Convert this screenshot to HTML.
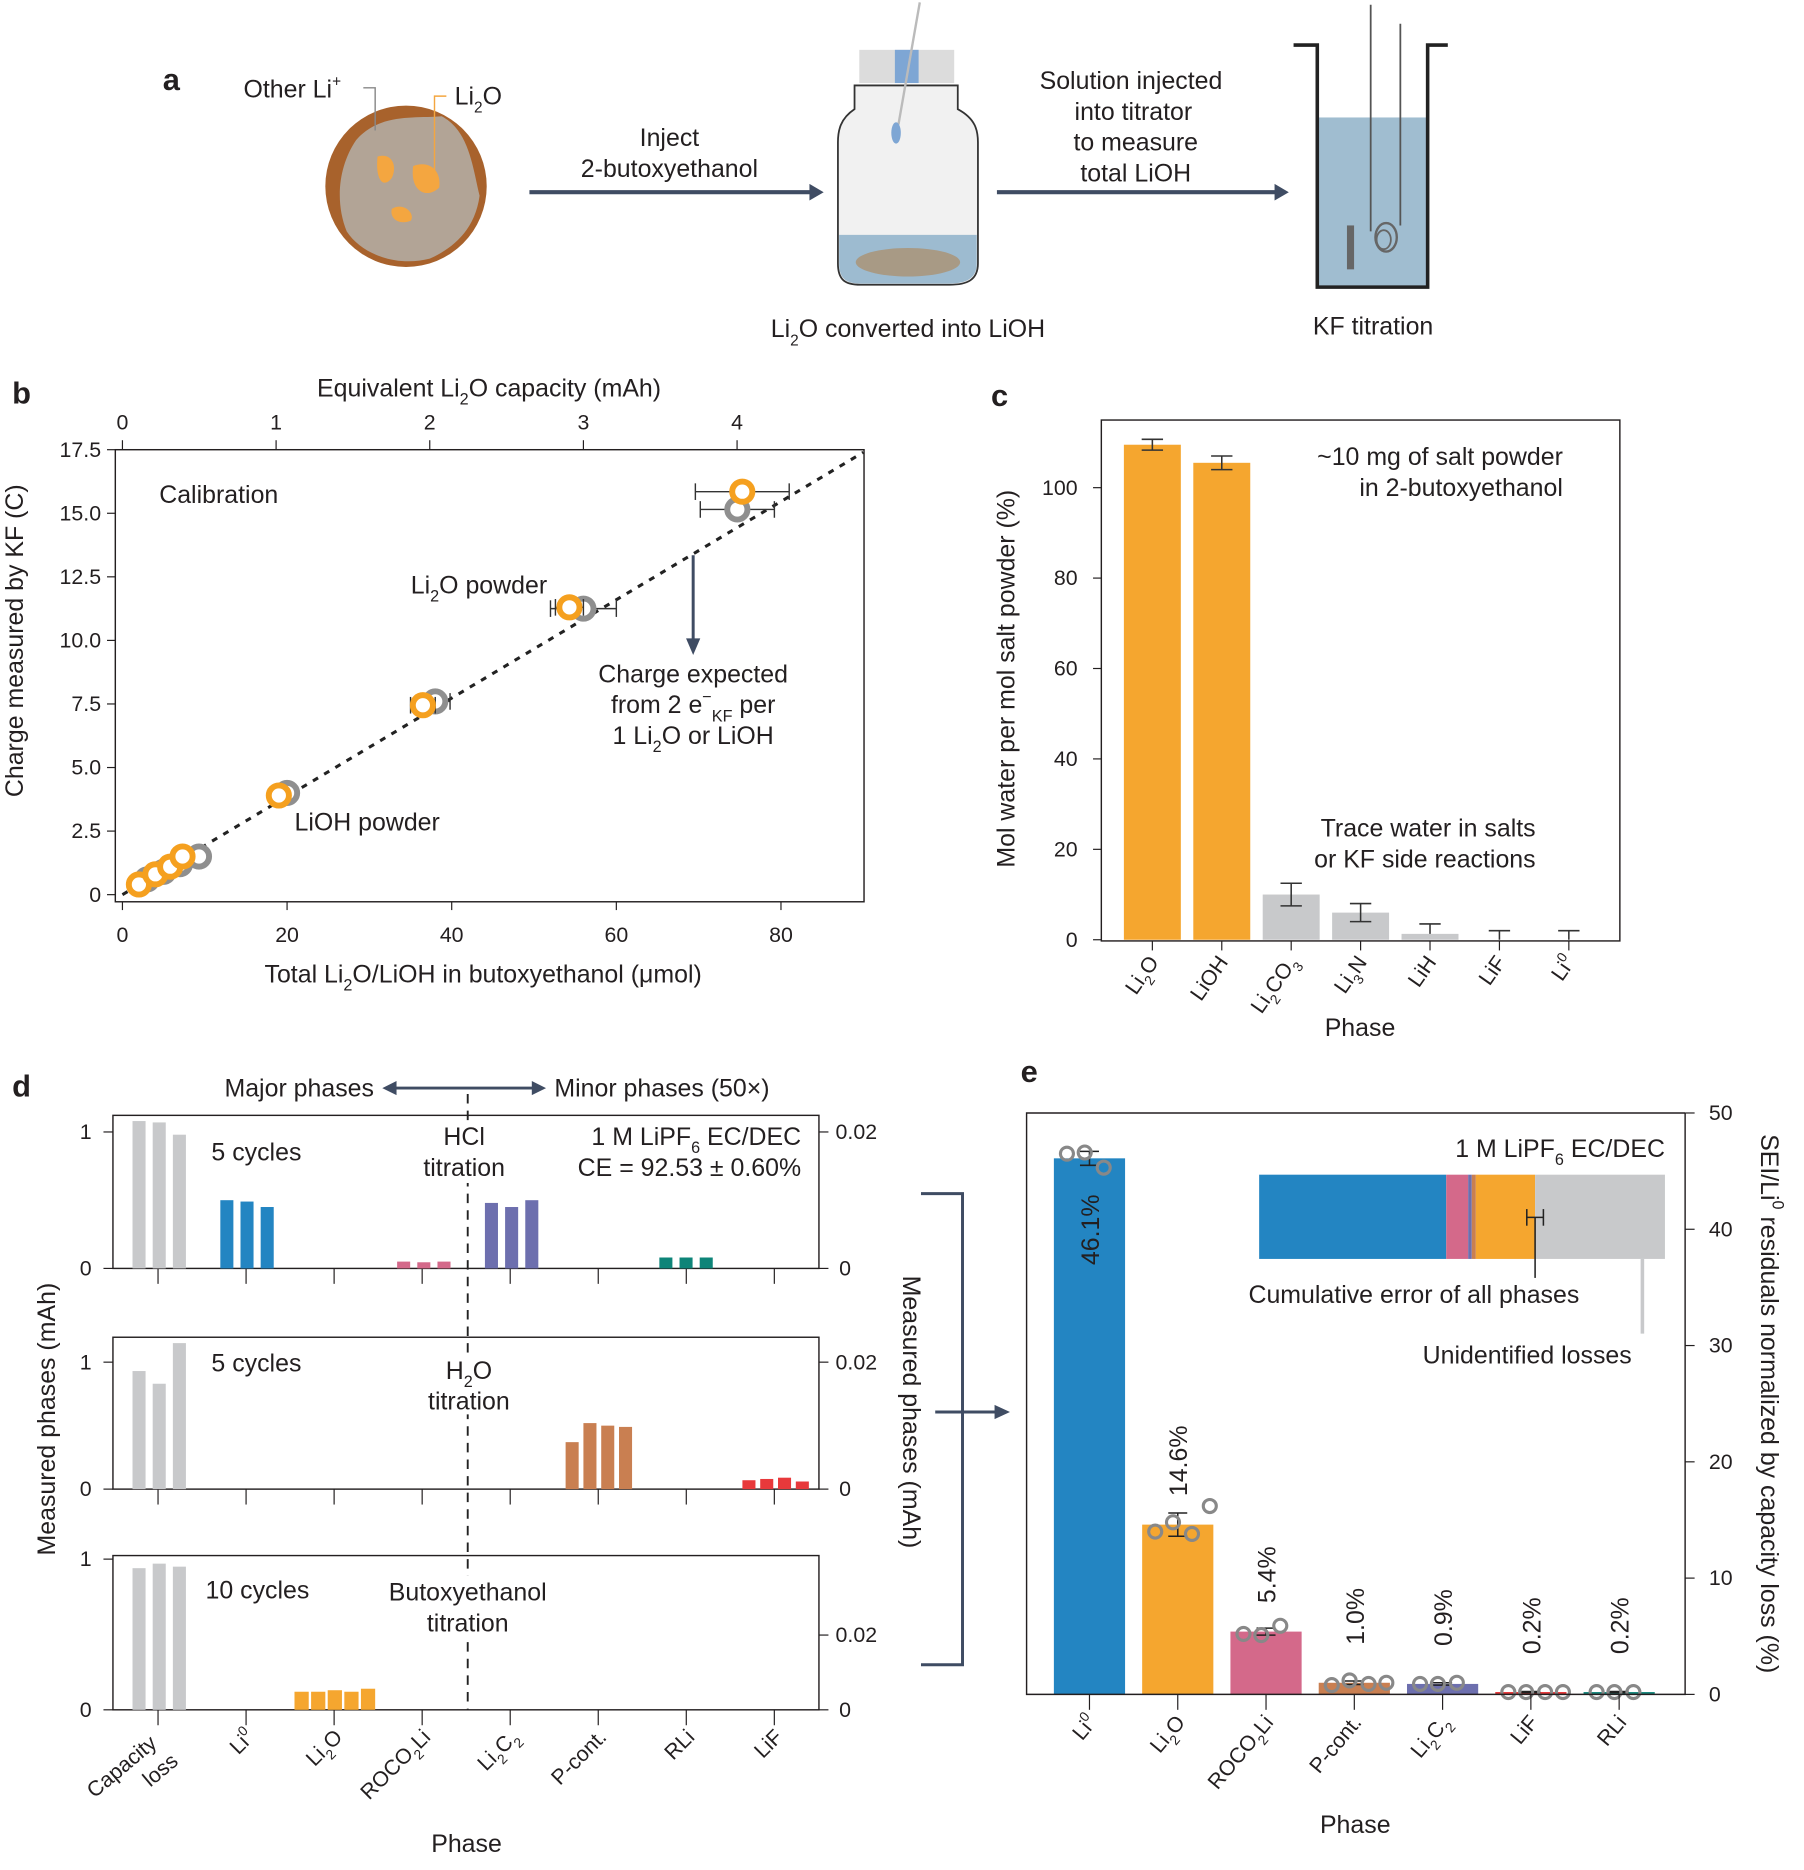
<!DOCTYPE html>
<html><head><meta charset="utf-8">
<style>
html,body{margin:0;padding:0;background:#fff;}
svg{display:block;font-family:"Liberation Sans",sans-serif;}
text{fill:#231f20;}
</style></head>
<body>
<svg id="fig" width="1804" height="1870" viewBox="0 0 1520 1576" xmlns="http://www.w3.org/2000/svg">
<!-- Panel a -->
<g>
<text x="137" y="76" font-size="26" font-weight="bold">a</text>
<text x="205" y="82" font-size="21">Other Li<tspan font-size="13" dy="-9">+</tspan></text>
<text x="383" y="88" font-size="21">Li<tspan font-size="13" dy="7">2</tspan><tspan dy="-7">O</tspan></text>
<circle cx="342" cy="157" r="68" fill="#a8622c"/>
<path d="M300,118 C320,95 350,100 372,98 C395,110 398,140 404,165 C400,195 380,210 362,218 C335,225 305,215 292,195 C282,170 285,140 300,118 Z" fill="#b2a496"/>
<path d="M318,132 C330,128 335,140 330,150 C322,160 316,150 318,132Z" fill="#f4a640"/>
<path d="M348,140 C360,135 372,142 370,158 C360,168 345,162 348,140Z" fill="#f4a640"/>
<path d="M330,176 C340,170 350,180 346,186 C336,190 328,184 330,176Z" fill="#f4a640"/>
<polyline points="306,74 316,74 316,110" fill="none" stroke="#888" stroke-width="1.2"/>
<polyline points="376,81 366,81 366,145" fill="none" stroke="#f4a640" stroke-width="1.2"/>
<text x="564" y="123" font-size="21" text-anchor="middle">Inject</text>
<text x="564" y="149" font-size="21" text-anchor="middle">2-butoxyethanol</text>
<line x1="446" y1="162" x2="686" y2="162" stroke="#3f4c63" stroke-width="3.5"/>
<polygon points="694,162 682,155 682,169" fill="#3f4c63"/>
<g>
<rect x="724" y="42" width="80" height="28" fill="#dcdcdc"/>
<rect x="754" y="42" width="20" height="28" fill="#7ea6d4"/>
<path d="M720,72 L807,72 L807,92 C822,100 824,110 824,120 L824,222 C824,236 815,240 800,240 L725,240 C712,240 706,236 706,222 L706,120 C706,110 708,100 720,92 Z" fill="#f1f1f1" stroke="#333" stroke-width="1.5"/>
<path d="M707,198 L823,198 L823,222 C823,234 815,239 800,239 L725,239 C712,239 707,234 707,222 Z" fill="#9dbbd0"/>
<ellipse cx="765" cy="221" rx="44" ry="12" fill="#a89a85"/>
<line x1="775" y1="2" x2="757" y2="105" stroke="#bbb" stroke-width="2"/>
<ellipse cx="755" cy="112" rx="4" ry="9" fill="#7ea6d4"/>
</g>
<text x="953" y="75" font-size="21" text-anchor="middle">Solution injected</text>
<text x="955" y="101" font-size="21" text-anchor="middle">into titrator</text>
<text x="957" y="127" font-size="21" text-anchor="middle">to measure</text>
<text x="957" y="153" font-size="21" text-anchor="middle">total LiOH</text>
<line x1="840" y1="162" x2="1076" y2="162" stroke="#3f4c63" stroke-width="3.5"/>
<polygon points="1086,162 1074,155 1074,169" fill="#3f4c63"/>
<g>
<rect x="1111" y="99" width="92" height="142" fill="#a0bdd0"/>
<polyline points="1090,38 1110,38 1110,242 1203,242 1203,38 1220,38" fill="none" stroke="#222" stroke-width="3"/>
<line x1="1155" y1="4" x2="1155" y2="195" stroke="#555" stroke-width="1.5"/>
<rect x="1135" y="190" width="6" height="37" fill="#666"/>
<line x1="1180" y1="20" x2="1180" y2="190" stroke="#555" stroke-width="1.5"/>
<ellipse cx="1168" cy="200" rx="9" ry="12" fill="none" stroke="#666" stroke-width="2"/>
<ellipse cx="1166" cy="202" rx="6" ry="8" fill="none" stroke="#666" stroke-width="1.5"/>
</g>
<text x="765" y="284" font-size="21" text-anchor="middle">Li<tspan font-size="13" dy="7">2</tspan><tspan dy="-7">O converted into LiOH</tspan></text>
<text x="1157" y="282" font-size="21" text-anchor="middle">KF titration</text>
</g>
<g id="pb"></g>
<g id="pc"></g>
<g id="pd"></g>
<g id="pe"></g>
</svg>
<script>
// ---- Panel b data ----
const bOrangeX = [2, 4, 5.8, 7.3, 19, 36.5, 54.3, 75.3];
const bOrangeY = [0.4, 0.8, 1.1, 1.5, 3.9, 7.45, 11.3, 15.85];
const bGrayX = [3, 5, 7, 9.3, 20, 38, 56, 74.7];
const bGrayY = [0.6, 0.9, 1.2, 1.5, 4.0, 7.6, 11.25, 15.15];
const bOrangeErr = [0, 0, 0, 0, 0, 1.5, 1.7, 5.7];
const bGrayErr = [0, 0, 0, 0, 0, 1.8, 4.0, 4.5];
const bXTicks = [0, 20, 40, 60, 80];
const bYTicks = [0, 2.5, 5.0, 7.5, 10.0, 12.5, 15.0, 17.5];
const bTopTicks = [0, 1, 2, 3, 4];
const bFitSlope = [0.1933];
// ---- Panel c data ----
const cCats = ['Li2O','LiOH','Li2CO3','Li3N','LiH','LiF','Li0'];
const cVals = [109.5, 105.5, 10, 6, 1.3, 0, 0];
const cErrLo = [1.2, 1.5, 2.5, 2, 0, 0, 0];
const cErrHi = [1.2, 1.5, 2.5, 2, 2.2, 2.0, 2.0];
const cYTicks = [0, 20, 40, 60, 80, 100];
// ---- Panel d data ----
const dCats = ['Capacity loss','Li0','Li2O','ROCO2Li','Li2C2','P-cont.','RLi','LiF'];
const dCap1 = [1.08, 1.07, 0.98];
const dCap2 = [0.93, 0.83, 1.15];
const dCap3 = [0.94, 0.97, 0.95];
const dLi0 = [0.5, 0.49, 0.45];
const dRoco = [0.05, 0.045, 0.05];
const dLi2C2 = [0.48, 0.45, 0.5];
const dRLi = [0.08, 0.08, 0.08];
const dPcont = [0.37, 0.52, 0.5, 0.49];
const dLiF = [0.07, 0.08, 0.09, 0.06];
const dLi2O = [0.12, 0.12, 0.13, 0.12, 0.14];
// ---- Panel e data ----
const eCats = ['Li0','Li2O','ROCO2Li','P-cont.','Li2C2','LiF','RLi'];
const eVals = [46.1, 14.6, 5.4, 1.0, 0.9, 0.2, 0.2];
const eErr = [0.6, 1.0, 0.3, 0.15, 0.1, 0.05, 0.05];
const ePts1 = [46.5, 14.0, 5.2, 0.8, 0.9, 0.2, 0.2];
const ePts2 = [46.6, 14.8, 5.1, 1.2, 0.9, 0.2, 0.2];
const ePts3 = [45.3, 13.8, 5.9, 0.9, 1.0, 0.2, 0.2];
const ePts4 = [0, 16.2, 0, 1.0, 0, 0.2, 0];
const eLabels = ['46.1%','14.6%','5.4%','1.0%','0.9%','0.2%','0.2%'];
const eYTicks = [0, 10, 20, 30, 40, 50];
const eStack = [46.1, 5.4, 0.9, 1.0, 14.6, 32.0];

const NS='http://www.w3.org/2000/svg';
function mk(parent, tag, attrs, txt){const e=document.createElementNS(NS,tag);for(const k in attrs)e.setAttribute(k,attrs[k]);if(txt!==undefined)e.textContent=txt;parent.appendChild(e);return e;}
function sub(parent,x,y,base,subs,size,anchor,rot){
  const t=mk(parent,'text',{x:x,y:y,'font-size':size,'text-anchor':anchor||'start'});
  if(rot) t.setAttribute('transform',rot);
  let shift=0;
  subs.forEach(s=>{const sp=mk(t,'tspan',{});sp.textContent=s[0];
    let want = s[1]?size*0.33:(s[2]?-size*0.45:0);
    sp.setAttribute('dy',want-shift);shift=want;
    if(s[1]||s[2]) sp.setAttribute('font-size',size*0.65);});
  return t;
}
function chem(name){
  const m={'Li2O':[['Li'],['2',1],['O']],'Li2CO3':[['Li'],['2',1],['CO'],['3',1]],'Li3N':[['Li'],['3',1],['N']],
    'Li0':[['Li'],['0',0,1]],'ROCO2Li':[['ROCO'],['2',1],['Li']],'Li2C2':[['Li'],['2',1],['C'],['2',1]]};
  return m[name]||[[name]];
}
const LC='#231f20';

// ================= Panel b =================
(function(){
const g=document.getElementById('pb');
const X0=97,X1=728,Y0=379,Y1=760;
const sx=v=>103+v*(658-103)/80, sy=v=>754-v*(754-379)/17.5, sxTop=v=>103+v*(621-103)/4;
mk(g,'text',{x:10,y:340,'font-size':26,'font-weight':'bold'},'b');
const fr=mk(g,'rect',{x:X0,y:Y0,width:X1-X0,height:Y1-Y0,fill:'none',stroke:LC,'stroke-width':1.2});

bXTicks.forEach(v=>{mk(g,'line',{x1:sx(v),y1:Y1,x2:sx(v),y2:Y1+7,stroke:LC});
  const t=mk(g,'text',{x:sx(v),y:Y1+34,'font-size':18,'text-anchor':'middle'},String(v));
  });
bYTicks.forEach(v=>{mk(g,'line',{x1:X0-7,y1:sy(v),x2:X0,y2:sy(v),stroke:LC});
  const t=mk(g,'text',{x:X0-12,y:sy(v)+6,'font-size':18,'text-anchor':'end'},v===0?'0':v.toFixed(1));
  });
bTopTicks.forEach(v=>{mk(g,'line',{x1:sxTop(v),y1:379,x2:sxTop(v),y2:371,stroke:LC});
  const t=mk(g,'text',{x:sxTop(v),y:362,'font-size':18,'text-anchor':'middle'},String(v));
  });
let t=sub(g,412,334,'',[['Equivalent Li'],['2',1],['O capacity (mAh)']],21,'middle');

t=sub(g,407,828,'',[['Total Li'],['2',1],['O/LiOH in butoxyethanol (μmol)']],21,'middle');

t=mk(g,'text',{x:0,y:0,'font-size':21,'text-anchor':'middle',transform:'translate(19,540) rotate(-90)'},'Charge measured by KF (C)');

const fl=mk(g,'line',{x1:sx(0),y1:sy(0),x2:sx(90),y2:sy(90*bFitSlope[0]),stroke:'#222','stroke-width':2.6,'stroke-dasharray':'5 6'});

mk(g,'text',{x:134,y:424,'font-size':21},'Calibration');
sub(g,346,500,'',[['Li'],['2',1],['O powder']],21,'start');
mk(g,'text',{x:248,y:700,'font-size':21},'LiOH powder');
mk(g,'text',{x:584,y:575,'font-size':21,'text-anchor':'middle'},'Charge expected');
sub(g,584,601,'',[['from 2 e'],['−',0,1],['KF',1],[' per']],21,'middle');
sub(g,584,627,'',[['1 Li'],['2',1],['O or LiOH']],21,'middle');
mk(g,'line',{x1:584,y1:468,x2:584,y2:540,stroke:'#3f4c63','stroke-width':2.5});
mk(g,'polygon',{points:'584,552 578,538 590,538',fill:'#3f4c63'});
function pts(xs,ys,errs,col,name){
  xs.forEach((x,i)=>{
    if(errs[i]>0){const y=sy(ys[i]);
      mk(g,'line',{x1:sx(x-errs[i]),y1:y,x2:sx(x+errs[i]),y2:y,stroke:'#333','stroke-width':1.2});
      mk(g,'line',{x1:sx(x-errs[i]),y1:y-7,x2:sx(x-errs[i]),y2:y+7,stroke:'#333','stroke-width':1.2});
      mk(g,'line',{x1:sx(x+errs[i]),y1:y-7,x2:sx(x+errs[i]),y2:y+7,stroke:'#333','stroke-width':1.2});}
    const c=mk(g,'circle',{cx:sx(x),cy:sy(ys[i]),r:8.5,fill:'#fff',stroke:col,'stroke-width':5});
    
  });
}
pts(bGrayX,bGrayY,bGrayErr,'#8f8f8f','gray-point');
pts(bOrangeX,bOrangeY,bOrangeErr,'#f5a01f','orange-point');
})();

// ================= Panel c =================
(function(){
const g=document.getElementById('pc');
const X0=928,X1=1365,Y0=354,Y1=793;
const sy=v=>792-v*(792-411)/100, cx=i=>971+i*58.5;
mk(g,'text',{x:835,y:342,'font-size':26,'font-weight':'bold'},'c');
cVals.forEach((v,i)=>{
  const b=mk(g,'rect',{x:cx(i)-24,y:sy(v),width:48,height:792-sy(v),fill:i<2?'#f5a62f':'#c8c9cb'});
  
  const lo=sy(v-cErrLo[i]),hi=sy(v+cErrHi[i]);
  mk(g,'line',{x1:cx(i),y1:lo,x2:cx(i),y2:hi,stroke:'#333','stroke-width':1.3});
  mk(g,'line',{x1:cx(i)-9,y1:hi,x2:cx(i)+9,y2:hi,stroke:'#333','stroke-width':1.3});
  if(cErrLo[i]>0) mk(g,'line',{x1:cx(i)-9,y1:lo,x2:cx(i)+9,y2:lo,stroke:'#333','stroke-width':1.3});
  mk(g,'line',{x1:cx(i),y1:Y1,x2:cx(i),y2:Y1+8,stroke:LC});
  const t=sub(g,0,0,'',chem(cCats[i]),18,'end','translate('+(cx(i)+6)+','+(Y1+18)+') rotate(-55)');
  
});
const fr=mk(g,'rect',{x:X0,y:Y0,width:X1-X0,height:Y1-Y0,fill:'none',stroke:LC,'stroke-width':1.2});

cYTicks.forEach(v=>{mk(g,'line',{x1:X0-7,y1:sy(v),x2:X0,y2:sy(v),stroke:LC});
  const t=mk(g,'text',{x:X0-20,y:sy(v)+6,'font-size':18,'text-anchor':'end'},String(v));
  });
let t=mk(g,'text',{x:0,y:0,'font-size':21,'text-anchor':'middle',transform:'translate(855,572) rotate(-90)'},'Mol water per mol salt powder (%)');

t=mk(g,'text',{x:1146,y:873,'font-size':21,'text-anchor':'middle'},'Phase');

mk(g,'text',{x:1317,y:392,'font-size':21,'text-anchor':'end'},'~10 mg of salt powder');
mk(g,'text',{x:1317,y:418,'font-size':21,'text-anchor':'end'},'in 2-butoxyethanol');
mk(g,'text',{x:1294,y:705,'font-size':21,'text-anchor':'end'},'Trace water in salts');
mk(g,'text',{x:1294,y:731,'font-size':21,'text-anchor':'end'},'or KF side reactions');
})();

// ================= Panel d =================
(function(){
const g=document.getElementById('pd');
const X0=95,X1=690;
const cx=i=>133+i*74.2;
mk(g,'text',{x:10,y:924,'font-size':26,'font-weight':'bold'},'d');
mk(g,'text',{x:315,y:924,'font-size':21,'text-anchor':'end'},'Major phases');
mk(g,'text',{x:467,y:924,'font-size':21},'Minor phases (50×)');
mk(g,'line',{x1:330,y1:917,x2:452,y2:917,stroke:'#3f4c63','stroke-width':2.5});
mk(g,'polygon',{points:'322,917 334,911 334,923',fill:'#3f4c63'});
mk(g,'polygon',{points:'460,917 448,911 448,923',fill:'#3f4c63'});
const subs=[{top:940,bot:1069,one:954,r02:954},{top:1127,bot:1255,one:1148,r02:1148},{top:1311,bot:1441,one:1314,r02:1378}];
function bars(s,vals,start,step,w,col,name,minor){
  const scale = minor ? (s.bot-s.r02) : (s.bot-s.one);
  vals.forEach((v,i)=>{const h=v*scale;
    const r=mk(g,'rect',{x:start+i*step-w/2,y:s.bot-h,width:w,height:h,fill:col});
    });
}
subs.forEach((s,k)=>{
  const fr=mk(g,'rect',{x:X0,y:s.top,width:X1-X0,height:s.bot-s.top,fill:'none',stroke:LC,'stroke-width':1.2});
  
  mk(g,'line',{x1:X0-8,y1:s.bot,x2:X0,y2:s.bot,stroke:LC});
  mk(g,'line',{x1:X0-8,y1:s.one,x2:X0,y2:s.one,stroke:LC});
  mk(g,'text',{x:77,y:s.bot+6,'font-size':18,'text-anchor':'end'},'0');
  mk(g,'text',{x:77,y:s.one+6,'font-size':18,'text-anchor':'end'},'1');
  mk(g,'line',{x1:X1,y1:s.bot,x2:X1+8,y2:s.bot,stroke:LC});
  mk(g,'line',{x1:X1,y1:s.r02,x2:X1+8,y2:s.r02,stroke:LC});
  mk(g,'text',{x:707,y:s.bot+6,'font-size':18},'0');
  mk(g,'text',{x:704,y:s.r02+6,'font-size':18},'0.02');
  dCats.forEach((c,i)=>mk(g,'line',{x1:cx(i),y1:s.bot,x2:cx(i),y2:s.bot+13,stroke:LC}));
});
const S=subs;
bars(S[0],dCap1,117,17,11,'#c8c9cb','capacity-loss-bar');
bars(S[0],dLi0,191,17,11,'#2385c2','li0-bar');
bars(S[0],dRoco,340,17,11,'#d4698a','roco2li-bar',true);
bars(S[0],dLi2C2,414,17,11,'#6d6fae','li2c2-bar',true);
bars(S[0],dRLi,561,17,11,'#0e8478','rli-bar',true);
bars(S[1],dCap2,117,17,11,'#c8c9cb','capacity-loss-bar');
bars(S[1],dPcont,482,15,11,'#c97f51','p-cont-bar',true);
bars(S[1],dLiF,631,15,11,'#e8393b','lif-bar',true);
bars(S[2],dCap3,117,17,11,'#c8c9cb','capacity-loss-bar');
bars(S[2],dLi2O,254,14,12,'#f5a62f','li2o-bar');
mk(g,'line',{x1:394,y1:922,x2:394,y2:1441,stroke:'#222','stroke-width':1.6,'stroke-dasharray':'8 6'});
// white backdrops behind titration labels
mk(g,'rect',{x:345,y:945,width:95,height:52,fill:'#fff'});
mk(g,'rect',{x:350,y:1140,width:90,height:52,fill:'#fff'});
mk(g,'rect',{x:318,y:1328,width:155,height:54,fill:'#fff'});
mk(g,'text',{x:178,y:978,'font-size':21},'5 cycles');
mk(g,'text',{x:391,y:965,'font-size':21,'text-anchor':'middle'},'HCl');
mk(g,'text',{x:391,y:991,'font-size':21,'text-anchor':'middle'},'titration');
sub(g,675,965,'',[['1 M LiPF'],['6',1],[' EC/DEC']],21,'end');
mk(g,'text',{x:675,y:991,'font-size':21,'text-anchor':'end'},'CE = 92.53 ± 0.60%');
mk(g,'text',{x:178,y:1156,'font-size':21},'5 cycles');
sub(g,395,1162,'',[['H'],['2',1],['O']],21,'middle');
mk(g,'text',{x:395,y:1188,'font-size':21,'text-anchor':'middle'},'titration');
mk(g,'text',{x:173,y:1347,'font-size':21},'10 cycles');
mk(g,'text',{x:394,y:1349,'font-size':21,'text-anchor':'middle'},'Butoxyethanol');
mk(g,'text',{x:394,y:1375,'font-size':21,'text-anchor':'middle'},'titration');
dCats.forEach((c,i)=>{
  let t;
  if(i===0){t=mk(g,'text',{'font-size':18,'text-anchor':'end',transform:'translate(133,1471) rotate(-40)'},'Capacity');
    mk(g,'text',{'font-size':18,'text-anchor':'end',transform:'translate(151,1486) rotate(-40)'},'loss');}
  else t=sub(g,0,0,'',chem(c),18,'end','translate('+(cx(i)+8)+',1465) rotate(-45)');
  
});
let t=mk(g,'text',{x:0,y:0,'font-size':21,'text-anchor':'middle',transform:'translate(46,1196) rotate(-90)'},'Measured phases (mAh)');

t=mk(g,'text',{x:393,y:1561,'font-size':21,'text-anchor':'middle'},'Phase');

t=mk(g,'text',{x:0,y:0,'font-size':21,'text-anchor':'middle',transform:'translate(761,1190) rotate(90)'},'Measured phases (mAh)');
mk(g,'polyline',{points:'776,1006 811,1006 811,1403 776,1403',fill:'none',stroke:'#3f4c63','stroke-width':2.5});
mk(g,'line',{x1:788,y1:1190,x2:840,y2:1190,stroke:'#3f4c63','stroke-width':2.5});
mk(g,'polygon',{points:'851,1190 838,1184 838,1196',fill:'#3f4c63'});
})();

// ================= Panel e =================
(function(){
const g=document.getElementById('pe');
const X0=865,X1=1420,Y0=938,Y1=1428;
const sy=v=>Y1-v*(Y1-Y0)/50, cx=i=>918+i*74.4;
const cols=['#2385c2','#f5a62f','#d4698a','#c97f51','#6d6fae','#e8393b','#1a8a80'];
mk(g,'text',{x:860,y:912,'font-size':26,'font-weight':'bold'},'e');
eVals.forEach((v,i)=>{
  const b=mk(g,'rect',{x:cx(i)-30,y:sy(v),width:60,height:Math.max(Y1-sy(v),2),fill:cols[i]});
  if(Y1-sy(v)<2) b.setAttribute('y',Y1-2);
  
  const lo=sy(v-eErr[i]),hi=sy(v+eErr[i]);
  mk(g,'line',{x1:cx(i),y1:lo,x2:cx(i),y2:hi,stroke:'#222','stroke-width':1.3});
  mk(g,'line',{x1:cx(i)-8,y1:lo,x2:cx(i)+8,y2:lo,stroke:'#222','stroke-width':1.3});
  mk(g,'line',{x1:cx(i)-8,y1:hi,x2:cx(i)+8,y2:hi,stroke:'#222','stroke-width':1.3});
  [[ePts1,-19],[ePts2,-4],[ePts3,12],[ePts4,27]].forEach(p=>{
    if(p[0][i]>0){const c=mk(g,'circle',{cx:cx(i)+p[1],cy:sy(p[0][i]),r:5.5,fill:'none',stroke:'#888','stroke-width':2.6});
      }
  });
  const ly = i===0 ? sy(v)+90 : sy(v)-24 - (i>=3?8:0);
  const t=mk(g,'text',{'font-size':21,'text-anchor':'start',transform:'translate('+(cx(i)+8)+','+ly+') rotate(-90)'},eLabels[i]);
  
  mk(g,'line',{x1:cx(i),y1:Y1,x2:cx(i),y2:Y1+13,stroke:LC});
  const tl=sub(g,0,0,'',chem(eCats[i]),18,'end','translate('+(cx(i)+7)+','+(Y1+24)+') rotate(-50)');
  
});
const fr=mk(g,'polyline',{points:X1+' '+Y0+' '+X0+' '+Y0+' '+X0+' '+Y1+' '+X1+' '+Y1+' '+X1+' '+Y0,fill:'none',stroke:LC,'stroke-width':1.2});

eYTicks.forEach(v=>{mk(g,'line',{x1:X1,y1:sy(v),x2:X1+8,y2:sy(v),stroke:LC});
  const t=mk(g,'text',{x:X1+20,y:sy(v)+6,'font-size':18},String(v));
  });
let t=sub(g,0,0,'',[['SEI/Li'],['0',0,1],[' residuals normalized by capacity loss (%)']],21,'middle','translate(1484,1183) rotate(90)');

t=mk(g,'text',{x:1142,y:1545,'font-size':21,'text-anchor':'middle'},'Phase');

const sCols=['#2385c2','#d4698a','#6d6fae','#c97f51','#f5a62f','#c8c9cb'];
const IX0=1061,IX1=1403;
const tot=eStack.reduce((a,b)=>a+b,0);
let acc=0;
eStack.forEach((v,i)=>{const x=IX0+acc/tot*(IX1-IX0),w=v/tot*(IX1-IX0);
  const r=mk(g,'rect',{x:x,y:990,width:w,height:71,fill:sCols[i]});
  acc+=v;});
const ex=IX0+(eStack.slice(0,5).reduce((a,b)=>a+b,0))/tot*(IX1-IX0);
mk(g,'line',{x1:ex-7,y1:1026,x2:ex+7,y2:1026,stroke:'#222','stroke-width':1.3});
mk(g,'line',{x1:ex-7,y1:1019,x2:ex-7,y2:1033,stroke:'#222','stroke-width':1.3});
mk(g,'line',{x1:ex+7,y1:1019,x2:ex+7,y2:1033,stroke:'#222','stroke-width':1.3});
mk(g,'line',{x1:ex,y1:1026,x2:ex,y2:1077,stroke:'#222','stroke-width':1.3});
mk(g,'line',{x1:1384,y1:1061,x2:1384,y2:1124,stroke:'#c8c9cb','stroke-width':3});
sub(g,1403,975,'',[['1 M LiPF'],['6',1],[' EC/DEC']],21,'end');
mk(g,'text',{x:1052,y:1098,'font-size':21},'Cumulative error of all phases');
mk(g,'text',{x:1375,y:1149,'font-size':21,'text-anchor':'end'},'Unidentified losses');
})();
</script>
</body></html>
